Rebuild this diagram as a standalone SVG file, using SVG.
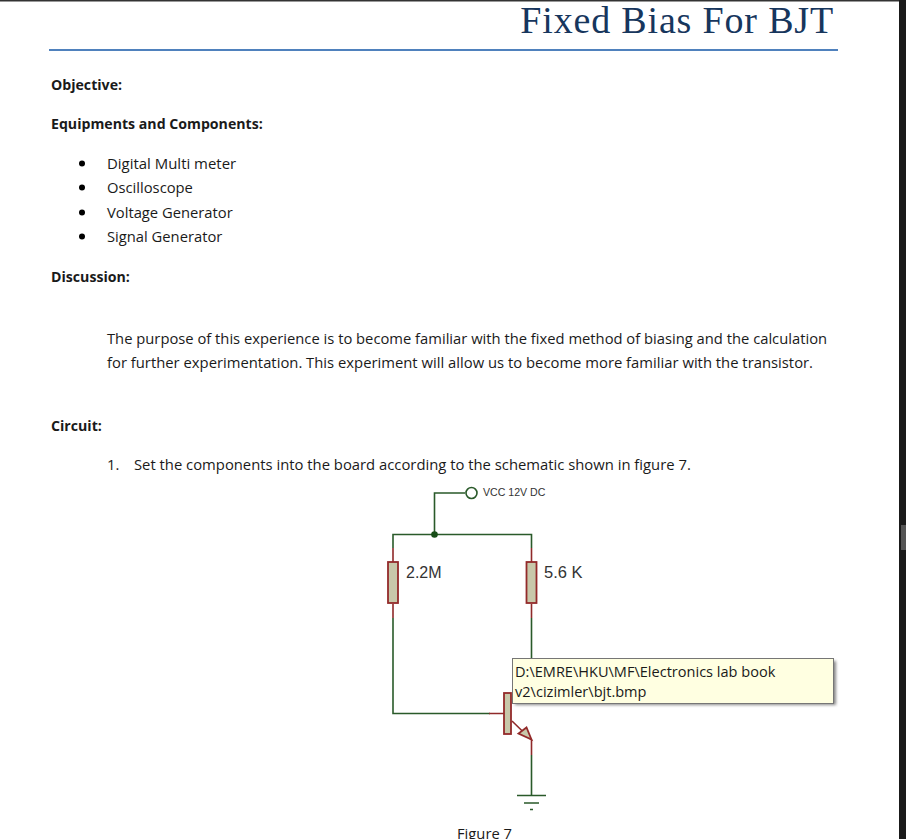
<svg xmlns="http://www.w3.org/2000/svg" width="906" height="839" viewBox="0 0 906 839">
<defs><filter id="sh" x="-5%" y="-20%" width="110%" height="140%"><feGaussianBlur stdDeviation="1.500"/></filter></defs>
<style>
text{font-family:"Open Sans","Liberation Sans",sans-serif;fill:#1a1a1a}
.body{font-size:14.750px}
.list{font-size:14.950px}
.wide{font-size:14.820px}
.tip{font-size:14.550px}
.h{font-size:14.150px;font-weight:700}
.w{fill:none;stroke:#2a5a2a;stroke-width:1.600}
.l{fill:none;stroke:#8f2a2a;stroke-width:1.600}
.c{fill:#c8c8aa;stroke:#932a2a;stroke-width:1.800}
.s{font-family:"Liberation Sans",sans-serif;fill:#333}
</style>
<rect width="906" height="839" fill="#fff"/>
<rect width="900" height="1.500" fill="#333"/>
<rect x="899" width="7" height="839" fill="#1a1a1a"/>
<rect x="901" y="525" width="5" height="25" fill="#555"/>
<text id="title" x="834" y="33" text-anchor="end" style="font-family:'Liberation Serif',serif;font-size:38px;fill:#17365d;letter-spacing:.83px">Fixed Bias For BJT</text>
<rect x="49" y="49" width="789" height="2" fill="#4f81bd"/>
<text class="h" x="51" y="90">Objective:</text>
<text class="h" x="51" y="129">Equipments and Components:</text>
<g fill="#000"><circle cx="82" cy="163.500" r="3"/><circle cx="82" cy="187.500" r="3"/><circle cx="82" cy="212.500" r="3"/><circle cx="82" cy="236.500" r="3"/></g>
<text class="list" x="107" y="169">Digital Multi meter</text>
<text class="body" x="107" y="193">Oscilloscope</text>
<text class="body" x="107" y="218">Voltage Generator</text>
<text class="body" x="107" y="242">Signal Generator</text>
<text class="h" x="51" y="282">Discussion:</text>
<text class="body" x="107" y="344">The purpose of this experience is to become familiar with the fixed method of biasing and the calculation</text>
<text class="wide" x="107" y="368">for further experimentation. This experiment will allow us to become more familiar with the transistor.</text>
<text class="h" x="51" y="431">Circuit:</text>
<text class="body" x="107" y="470">1.</text>
<text class="wide" x="134" y="470">Set the components into the board according to the schematic shown in figure 7.</text>
<g id="connectors">
<path class="w" d="M465 493H434.500V534.500M393 548V534.500H531.500V548M393 618V713.500H490M531.500 618V660M531.500 755V795"/>
<path class="l" d="M393 548V562M393 604V618M531.500 562V548M531.500 604V618M489 713.500H504M512 721L531.500 740V755"/>
</g>
<g id="vcc"><circle cx="471.500" cy="493" r="5.500" fill="#fff" stroke="#2a5a2a" stroke-width="1.600"/><text class="s" x="483" y="496" font-size="10.600">VCC 12V DC</text></g>
<circle id="junction" cx="434.500" cy="534.500" r="3.300" fill="#174d17"/>
<g id="r1"><rect class="c" x="388" y="562" width="10" height="41"/><text class="s" x="406" y="578" font-size="16">2.2M</text></g>
<g id="r2"><rect class="c" x="526.500" y="562" width="10" height="41"/><text class="s" x="544" y="578" font-size="16.500">5.6 K</text></g>
<g id="transistor"><rect class="c" x="504" y="693" width="7" height="41"/><path class="c" d="M531.500 739.500L526.500 727.500L518.500 733.500Z"/></g>
<g id="ground"><path class="w" d="M517 795.500H546M524 803H539M530 809.500H533"/></g>
<g id="tooltip"><rect x="515" y="661" width="321" height="44" fill="#555" opacity=".7" filter="url(#sh)"/><rect x="512.500" y="658.500" width="321" height="45" fill="#ffffe1" stroke="#767676"/>
<text class="tip" x="515" y="677">D:\EMRE\HKU\MF\Electronics lab book</text><text class="tip" x="515" y="697">v2\cizimler\bjt.bmp</text></g>
<text class="body" x="457" y="839">Figure 7</text>
</svg>
